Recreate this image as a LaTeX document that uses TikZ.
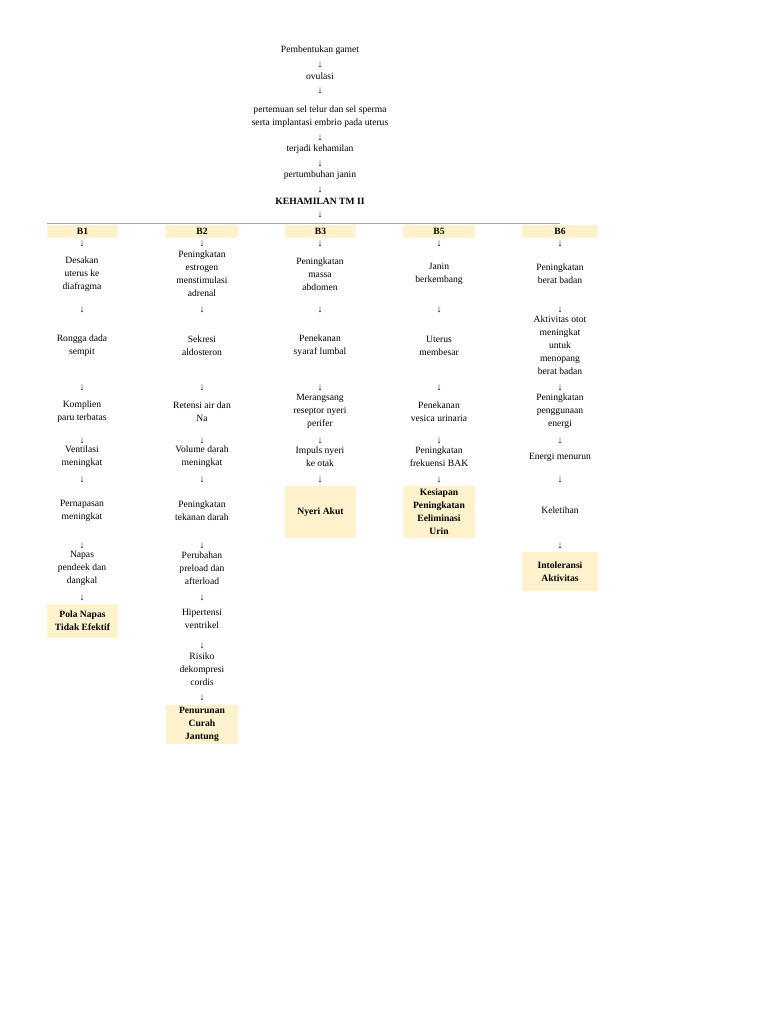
\documentclass[tikz,border=0pt]{standalone}
\usepackage{fontspec}
\setmainfont{Liberation Serif}
\definecolor{boxc}{HTML}{FFF2CC}
\tikzset{
 txt/.style={align=center,inner sep=0pt,font=\fontsize{9.6}{13}\selectfont},
 arr/.style={inner sep=0pt,font=\fontsize{10}{13}\selectfont,anchor=base},
 hbox/.style={fill=boxc,inner sep=0pt,align=center,font=\fontsize{9.6}{13}\selectfont\bfseries}
}
\newcommand\tx[5]{\node[txt] (#1) at (#2,{(#3+#4)/2-3}) {#5};}
\newcommand\ar[3]{\node[arr] (#1) at (#2,#3) {↓};}
\newcommand\bx[6]{\node[hbox,minimum width=#4pt,minimum height=#5pt] (#1) at (#2,#3) {#6};}
\begin{document}
\begin{tikzpicture}[x=1pt,y=-1pt]
\useasboundingbox (0,0) rectangle (768,1024);
% top chain
\tx{t1}{320}{53}{53}{Pembentukan gamet}
\ar{a1}{320}{68}
\tx{t2}{320}{79}{79}{ovulasi}
\ar{a2}{320}{94}
\tx{t3}{320}{113}{127}{pertemuan sel telur dan sel sperma\\serta implantasi embrio pada uterus}
\ar{a3}{320}{141}
\tx{t4}{320}{152}{152}{terjadi kehamilan}
\ar{a4}{320}{167}
\tx{t5}{320}{178}{178}{pertumbuhan janin}
\ar{a5}{320}{193}
\node[txt,font=\fontsize{9.6}{13}\selectfont\bfseries] (t6) at (320,201) {KEHAMILAN TM II};
\ar{a6}{320}{218}
\coordinate (hl) at (47,223); \coordinate (hr) at (560,223);
\draw[gray!70,line width=0.8pt] (hl) -- (hr);
% headers
\bx{B1}{82.5}{231.5}{71}{13}{B1}
\bx{B2}{202}{231.5}{72}{13}{B2}
\bx{B3}{320.5}{231.5}{71}{13}{B3}
\bx{B5}{439}{231.5}{72}{13}{B5}
\bx{B6}{560}{231.5}{76}{13}{B6}
% B1
\ar{b1a}{82}{247}
\tx{b1t1}{82}{264}{290}{Desakan\\uterus ke\\diafragma}
\ar{b1b}{82}{312}
\tx{b1t2}{82}{342}{355}{Rongga dada\\sempit}
\ar{b1c}{82}{390}
\tx{b1t3}{82}{408}{421}{Komplien\\paru terbatas}
\ar{b1d}{82}{443}
\tx{b1t4}{82}{453}{466}{Ventilasi\\meningkat}
\ar{b1e}{82}{482}
\tx{b1t5}{82}{507}{520}{Pernapasan\\meningkat}
\ar{b1f}{82}{548}
\tx{b1t6}{82}{559}{584}{Napas\\pendeek dan\\dangkal}
\ar{b1g}{82}{600}
\bx{b1x}{82.5}{621}{71}{34}{Pola Napas\\Tidak Efektif}
% B2
\ar{b2a}{202}{247}
\tx{b2t1}{202}{257}{296}{Peningkatan\\estrogen\\menstimulasi\\adrenal}
\ar{b2b}{202}{312}
\tx{b2t2}{202}{342}{355}{Sekresi\\aldosteron}
\ar{b2c}{202}{390}
\tx{b2t3}{202}{408}{421}{Retensi air dan\\Na}
\ar{b2d}{202}{443}
\tx{b2t4}{202}{453}{466}{Volume darah\\meningkat}
\ar{b2e}{202}{482}
\tx{b2t5}{202}{507}{520}{Peningkatan\\tekanan darah}
\ar{b2f}{202}{548}
\tx{b2t6}{202}{559}{584}{Perubahan\\preload dan\\afterload}
\ar{b2g}{202}{600}
\tx{b2t7}{202}{615}{628}{Hipertensi\\ventrikel}
\ar{b2h}{202}{648}
\tx{b2t8}{202}{659}{685}{Risiko\\dekompresi\\cordis}
\ar{b2i}{202}{700}
\bx{b2x}{202}{724.5}{72}{39}{Penurunan\\Curah\\Jantung}
% B3
\ar{b3a}{320}{247}
\tx{b3t1}{320}{264}{290}{Peningkatan\\massa\\abdomen}
\ar{b3b}{320}{312}
\tx{b3t2}{320}{342}{355}{Penekanan\\syaraf lumbal}
\ar{b3c}{320}{390}
\tx{b3t3}{320}{401}{427}{Merangsang\\reseptor nyeri\\perifer}
\ar{b3d}{320}{443}
\tx{b3t4}{320}{453}{466}{Impuls nyeri\\ke otak}
\ar{b3e}{320}{482}
\bx{b3x}{320.5}{512}{71}{52}{Nyeri Akut}
% B5
\ar{b5a}{439}{247}
\tx{b5t1}{439}{270}{283}{Janin\\berkembang}
\ar{b5b}{439}{312}
\tx{b5t2}{439}{342}{355}{Uterus\\membesar}
\ar{b5c}{439}{390}
\tx{b5t3}{439}{408}{421}{Penekanan\\vesica urinaria}
\ar{b5d}{439}{443}
\tx{b5t4}{439}{453}{466}{Peningkatan\\frekuensi BAK}
\ar{b5e}{439}{482}
\bx{b5x}{439}{512}{72}{52}{Kesiapan\\Peningkatan\\Eeliminasi\\Urin}
% B6
\ar{b6a}{560}{247}
\tx{b6t1}{560}{270}{283}{Peningkatan\\berat badan}
\ar{b6b}{560}{312}
\tx{b6t2}{560}{322}{374}{Aktivitas otot\\meningkat\\untuk\\menopang\\berat badan}
\ar{b6c}{560}{390}
\tx{b6t3}{560}{401}{427}{Peningkatan\\penggunaan\\energi}
\ar{b6d}{560}{443}
\tx{b6t4}{560}{460}{460}{Energi menurun}
\ar{b6e}{560}{482}
\tx{b6t5}{560}{513}{513}{Keletihan}
\ar{b6f}{560}{548}
\bx{b6x}{560}{571.5}{76}{39}{Intoleransi\\Aktivitas}
\end{tikzpicture}
\end{document}
